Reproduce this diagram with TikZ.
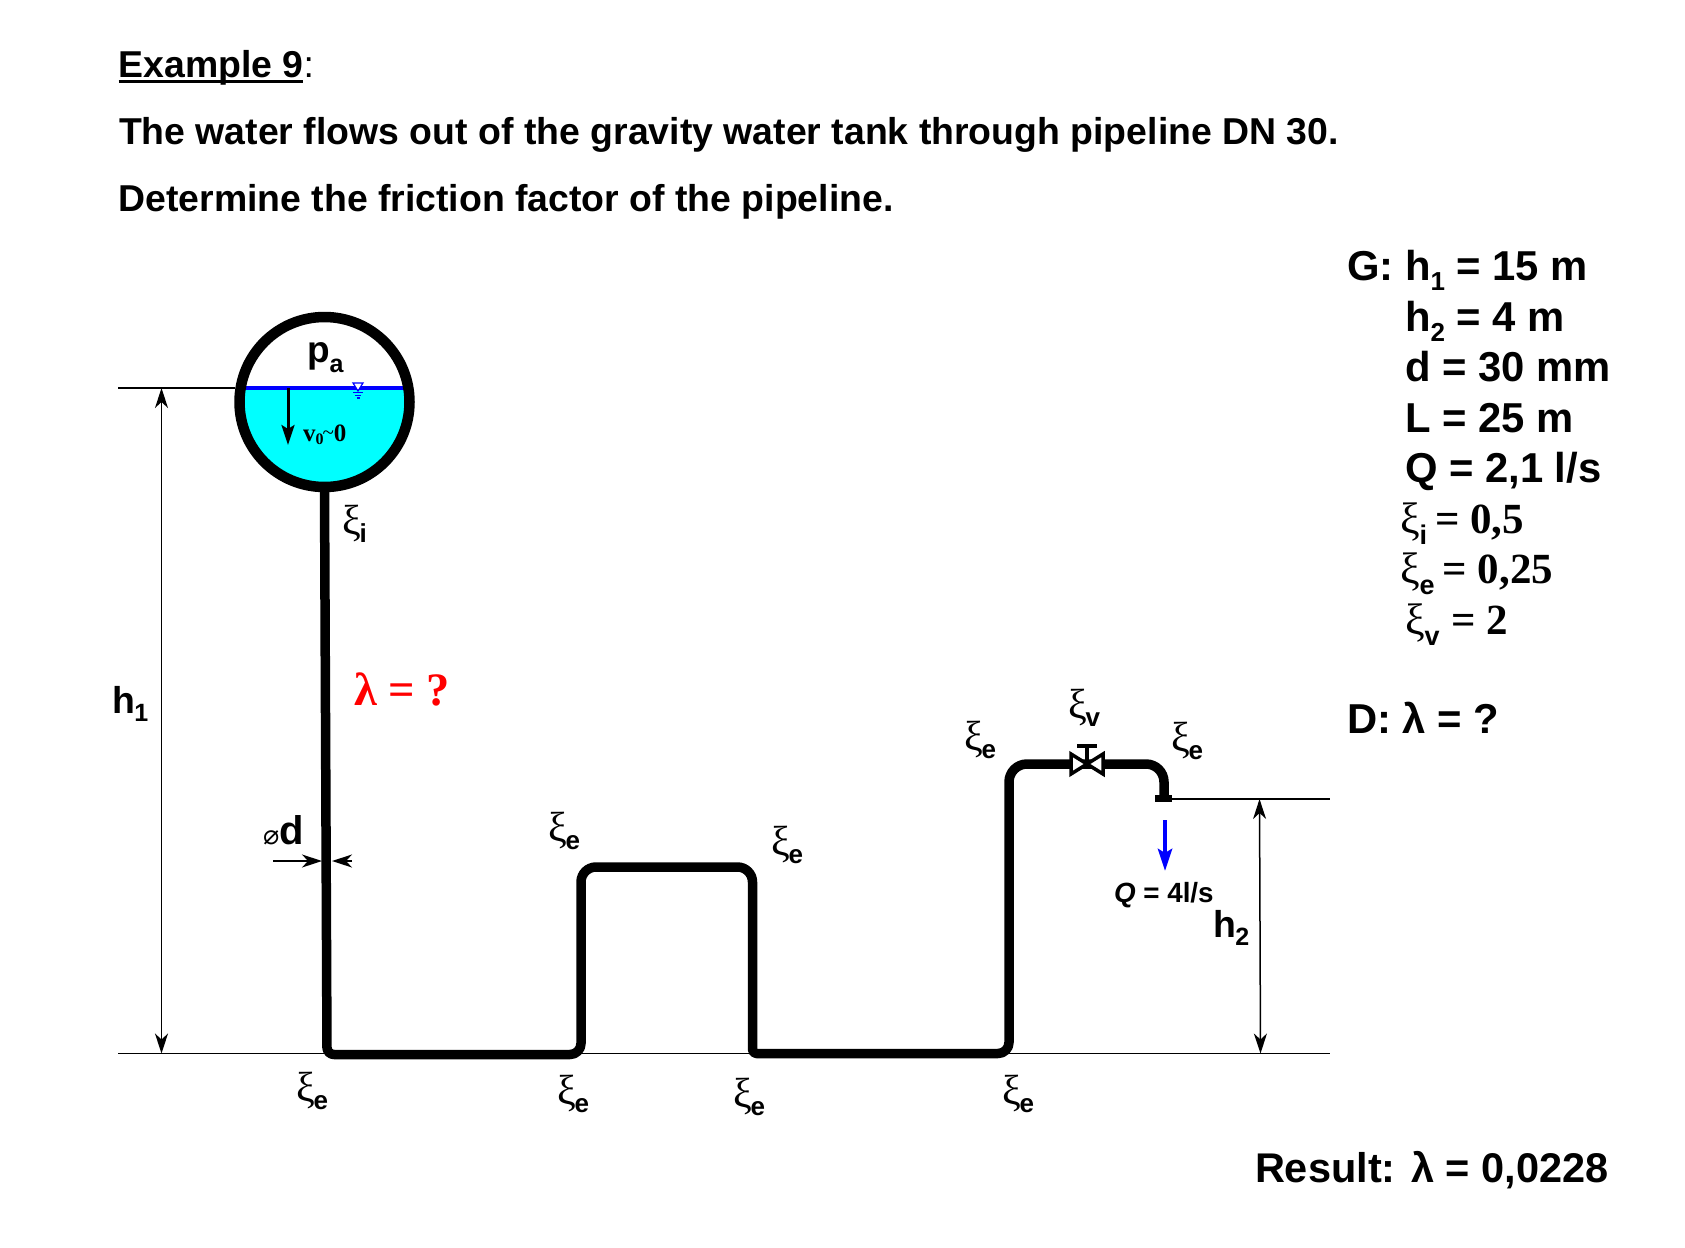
\documentclass[tikz,border=0pt]{standalone}
\usepackage{fontspec}
\setmainfont{Liberation Sans}
\newfontfamily\tms{Liberation Serif}
\newfontfamily\djv{DejaVu Sans}
\usetikzlibrary{arrows.meta}
\newcommand{\fsz}[1]{\fontsize{#1}{#1}\selectfont}
\definecolor{waterc}{RGB}{0,255,255}
\tikzset{
 txt/.style={anchor=base west,inner sep=0,outer sep=0,font=\fsz{37.4}\bfseries},
 given/.style={anchor=base west,inner sep=0,outer sep=0,font=\fsz{41.8}\bfseries},
 serifval/.style={anchor=base west,inner sep=0,outer sep=0,font=\fsz{43}\tms\bfseries},
 dimline/.style={line width=1.5pt,black},
 dimarrow/.style={line width=1.5pt,black,{Stealth[length=20pt,width=13pt,inset=6pt]}-{Stealth[length=20pt,width=13pt,inset=6pt]}},
 dimhead/.style={line width=1.5pt,black,-{Stealth[length=20pt,width=13pt,inset=6pt]}},
 pipe/.style={line width=9.5pt,black,line cap=butt,line join=round},
 xilabel/.style={anchor=base west,inner sep=0,outer sep=0}
}
\newcommand{\xis}[1]{{\fsz{42}\tms\mdseries ξ}\kern-1pt\raisebox{-8pt}{\fsz{26}\rmfamily\bfseries #1}}
\newcommand{\xib}[1]{{\fsz{44}\tms\mdseries ξ}\raisebox{-11pt}{\fsz{27}\rmfamily\bfseries #1}}
\begin{document}
\begin{tikzpicture}[x=1pt,y=-1pt]
\useasboundingbox (0,0) rectangle (1685,1247);
% texts
\node[txt] (t1) at (118.5,77.5) {Example 9\mdseries:};
\coordinate (ula) at (118.5,81);
\coordinate (ulb) at (303,81);
\draw[line width=3pt] (ula) -- (ulb);
\node[txt] (t2) at (119,144) {The water flows out of the gravity water tank through pipeline DN 30.};
\node[txt] (t3) at (118.5,211) {Determine the friction factor of the pipeline.};
% reference lines
\coordinate (lvlL) at (118,388);
\coordinate (lvlT) at (235,388);
\coordinate (baseL) at (118,1053.5);
\coordinate (baseR) at (1330,1053.5);
\coordinate (h2L) at (1172,799);
\coordinate (h2R) at (1330,799);
\coordinate (h1a) at (161.5,388);
\coordinate (h1b) at (161.5,1053.5);
\coordinate (h2a) at (1259.5,799);
\coordinate (h2b) at (1260.5,1053.5);
% water
\begin{scope}
\clip (324.5,402) circle (85);
\fill[waterc] (230,388) rectangle (420,500);
\draw[line width=3.5pt,blue] (235,388) -- (415,388);
\end{scope}
\node[circle,draw,line width=10.5pt,minimum size=170pt,inner sep=0,outer sep=0] (tank) at (324.5,402) {};
\draw[dimline] (lvlL) -- (lvlT);
\draw[dimline] (baseL) -- (baseR);
\draw[dimline] (h2L) -- (h2R);
\draw[dimarrow] (h1a) -- (h1b);
\draw[dimarrow] (h2a) -- (h2b);
% pipe
\coordinate (p0) at (tank.south);
\coordinate (p1) at (327,1054.5);
\coordinate (p2) at (581,1054.5);
\coordinate (p3) at (581,867);
\coordinate (p4) at (752.5,867);
\coordinate (p5) at (752.5,1053.5);
\coordinate (p6) at (1009,1053.5);
\coordinate (p7) at (1009,764);
\coordinate (p8) at (1164,764);
\coordinate (p9) at (1164,797);
\draw[pipe] (p0) [rounded corners=7pt] -- (p1) [rounded corners=11pt] -- (p2) [rounded corners=15pt] -- (p3) -- (p4) [rounded corners=4pt] -- (p5) [rounded corners=11pt] -- (p6) [rounded corners=18pt] -- (p7) [rounded corners=18pt] -- (p8) -- (p9);
\fill (1155,795) rectangle (1172,802);
% valve
\coordinate (vc) at (1087,764);
\draw[line width=3.5pt,fill=white,line join=miter] (vc) -- (1071,754) -- (1071,774) -- cycle;
\draw[line width=3.5pt,fill=white,line join=miter] (vc) -- (1103,754) -- (1103,774) -- cycle;
\draw[line width=3.5pt] (vc) -- (1087,746);
\draw[line width=3.5pt] (1077,746) -- (1097,746);
% arrows
\coordinate (va) at (288,388);
\coordinate (vb) at (288,445);
\draw[line width=3pt,-{Stealth[length=20pt,width=13pt,inset=4pt]}] (va) -- (vb);
\coordinate (qa) at (1165,820);
\coordinate (qb) at (1165,871);
\draw[line width=4.5pt,blue,-{Stealth[length=22pt,width=14pt,inset=4pt]}] (qa) -- (qb);
\coordinate (da) at (273,861);
\coordinate (db) at (322,861);
\coordinate (dc) at (352,861);
\coordinate (dd) at (332,861);
\draw[dimhead] (da) -- (db);
\draw[dimhead] (dc) -- (dd);
% level marker
\draw[blue,line width=1.2pt,fill=white] (353,383) -- (363,383) -- (358,391) -- cycle;
\draw[blue,line width=1.2pt] (353,392.5) -- (363,392.5) (355,395.5) -- (361,395.5) (356.5,398) -- (359.5,398);
% labels
\node[txt,font=\fsz{37}\bfseries] (pa) at (307,362) {p\raisebox{-10pt}{\fsz{25}a}};
\node[xilabel,font=\fsz{25}\tms\bfseries] (v0) at (303,441) {v\raisebox{-3pt}{\fsz{16}0}\mdseries\kern-1pt\raisebox{2pt}{\fsz{21}\char`\~}\bfseries 0};
\node[txt] (h1) at (112,713) {h\kern-0.5pt\raisebox{-8pt}{\fsz{25}1}};
\node[txt] (h2) at (1213,937) {h\kern-0.5pt\raisebox{-8pt}{\fsz{25}2}};
\node[xilabel,font=\fsz{40}\bfseries] (dia) at (263,844) {{\fsz{27}\mdseries\djv ⌀}d};
\node[xilabel,font=\fsz{46.5}\tms\bfseries,text=red] (lam) at (354,705) {λ = ?};
\node[xilabel,font=\fsz{27.8}\bfseries] (Q) at (1114,902) {\itshape Q\upshape{} = 4l/s};
\node[xilabel] (xi0) at (342,534) {\xis{i}};
\node[xilabel] (xi1) at (296,1101) {\xis{e}};
\node[xilabel] (xi2) at (557,1104) {\xis{e}};
\node[xilabel] (xi3) at (733,1107) {\xis{e}};
\node[xilabel] (xi4) at (1002,1104) {\xis{e}};
\node[xilabel] (xi5) at (548,841) {\xis{e}};
\node[xilabel] (xi6) at (771,855) {\xis{e}};
\node[xilabel] (xi7) at (964,750) {\xis{e}};
\node[xilabel] (xi8) at (1068,718) {\xis{v}};
\node[xilabel] (xi9) at (1171,751) {\xis{e}};
% given
\node[given] (gG) at (1347,280) {G:};
\node[given] (g1) at (1405,280) {h\raisebox{-10pt}{\fsz{26}1} = 15 m};
\node[given] (g2) at (1405,331) {h\raisebox{-10pt}{\fsz{26}2} = 4 m};
\node[given] (g3) at (1405,381) {d = 30 mm};
\node[given] (g4) at (1405,432) {L = 25 m};
\node[given] (g5) at (1405,482) {Q = 2,1 l/s};
\node[serifval] (g6) at (1400,533) {\xib{i}\kern8pt = 0,5};
\node[serifval] (g7) at (1400,583) {\xib{e}\kern8pt = 0,25};
\node[serifval] (g8) at (1405,634) {\xib{v}\kern12pt = 2};
\node[given] (dD) at (1347,733) {D: λ = ?};
\node[given,font=\fsz{41.5}\bfseries] (res) at (1255,1182) {Result: λ = 0,0228};
\end{tikzpicture}
\end{document}
